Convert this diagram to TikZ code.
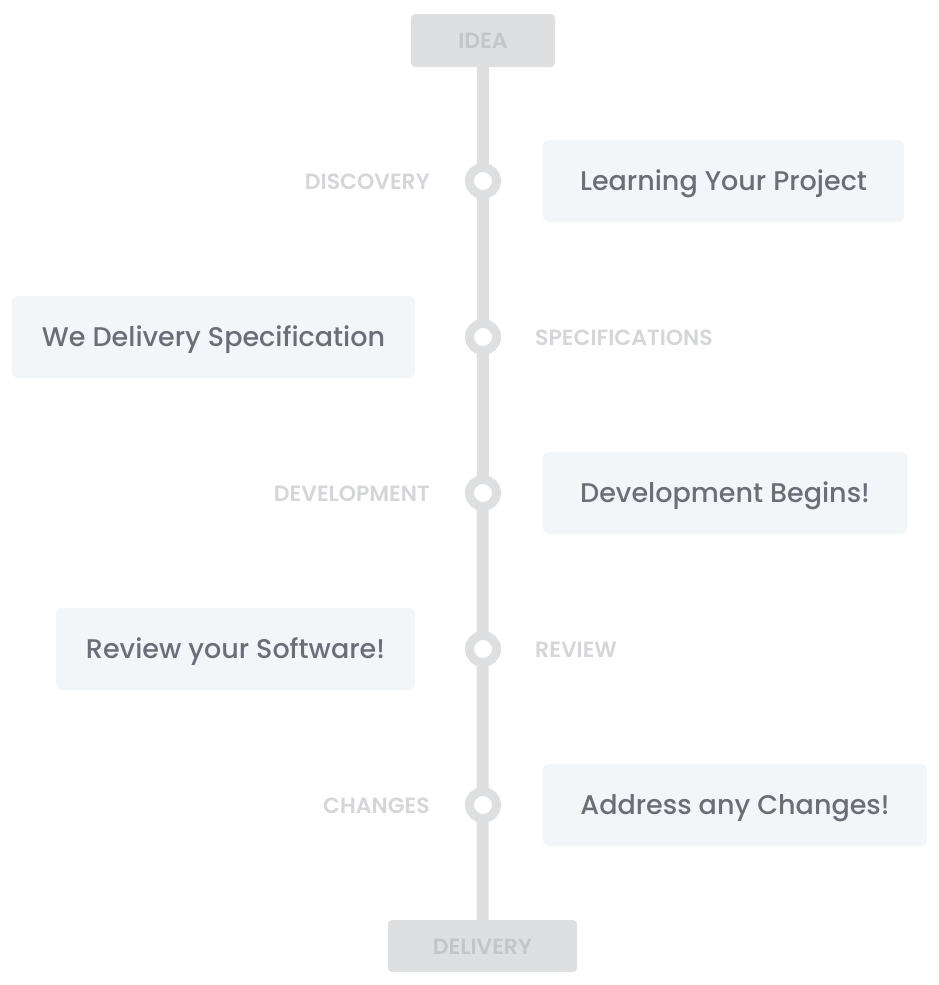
\documentclass[tikz,border=0pt]{standalone}
\usepackage{fontspec}
\setmainfont{Poppins Medium}
\newfontfamily\labfont{Poppins SemiBold}
\definecolor{linegray}{HTML}{DEDFE1}
\definecolor{boxfill}{HTML}{F3F6F9}
\definecolor{boxtext}{HTML}{6A6E76}
\definecolor{labtext}{HTML}{D5D6DA}
\definecolor{endtext}{HTML}{C3C5C9}
\begin{document}
\begin{tikzpicture}[x=1pt,y=-1pt,
  endbox/.style={fill=linegray, rounded corners=4pt, inner sep=0pt, text=endtext, text height=16pt, text depth=0pt, font=\labfont\fontsize{22}{26}\selectfont},
  stagebox/.style={fill=boxfill, rounded corners=6pt, inner sep=0pt, text=boxtext, text height=19.5pt, text depth=0pt, font=\fontsize{27}{30}\selectfont},
  lab/.style={text=labtext, inner sep=0pt, text height=16pt, text depth=0pt, font=\labfont\fontsize{22}{26}\selectfont},
  ring/.style={circle, fill=white, draw=linegray, line width=9pt, minimum size=27pt, inner sep=0pt}
]
\useasboundingbox (0,0) rectangle (939,985);
\node[endbox, minimum width=144pt, minimum height=53pt] (idea) at (483,40.5) {IDEA};
\node[endbox, minimum width=189pt, minimum height=52pt] (delivery) at (482.5,946) {DELIVERY};
\draw[linegray, line width=12pt] (idea.south) -- (delivery.north);

\foreach \n/\y in {c1/181,c2/337,c3/493,c4/649,c5/805}{
  \node[ring] (\n) at (483,\y) {};
}

\node[stagebox, minimum width=361pt, minimum height=82pt] (b1) at (723.5,181) {Learning Your Project};
\node[stagebox, minimum width=403pt, minimum height=82pt] (b2) at (213.5,337) {We Delivery Specification};
\node[stagebox, minimum width=364pt, minimum height=82pt] (b3) at (725,493) {Development Begins!};
\node[stagebox, minimum width=359pt, minimum height=82pt] (b4) at (235.5,649) {Review your Software!};
\node[stagebox, minimum width=384pt, minimum height=82pt] (b5) at (735,805) {Address any Changes!};

\node[lab, anchor=east] (l1) at (430,181) {DISCOVERY};
\node[lab, anchor=west] (l2) at (535,337) {SPECIFICATIONS};
\node[lab, anchor=east] (l3) at (430,493) {DEVELOPMENT};
\node[lab, anchor=west] (l4) at (535,649) {REVIEW};
\node[lab, anchor=east] (l5) at (430,805) {CHANGES};
\end{tikzpicture}
\end{document}
